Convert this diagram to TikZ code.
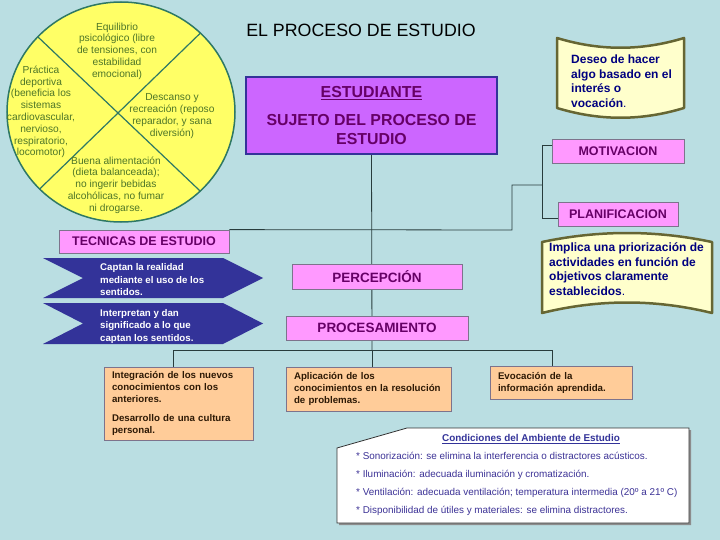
\documentclass[tikz,border=0pt]{standalone}
\usepackage{fontspec}
\setmainfont{Liberation Sans}
\pgfdeclarelayer{fondo}
\pgfsetlayers{fondo,main}
\definecolor{celeste}{RGB}{186,222,226}
\definecolor{amarillo}{RGB}{255,255,102}
\definecolor{verdeoscuro}{RGB}{46,120,100}
\definecolor{verdetexto}{RGB}{78,118,40}
\definecolor{violeta}{RGB}{204,102,255}
\definecolor{azulborde}{RGB}{51,51,153}
\definecolor{morado}{RGB}{102,0,102}
\definecolor{rosa}{RGB}{255,153,255}
\definecolor{grisborde}{RGB}{125,115,140}
\definecolor{naranja}{RGB}{255,204,153}
\definecolor{marron}{RGB}{45,25,5}
\definecolor{crema}{RGB}{255,255,204}
\definecolor{oliva}{RGB}{102,102,51}
\definecolor{marino}{RGB}{0,0,128}
\definecolor{lineagris}{RGB}{40,60,60}
\definecolor{textoazul}{RGB}{60,50,150}
\begin{document}
\begin{tikzpicture}[x=1pt,y=-1pt,
    linea/.style={draw=lineagris,line width=0.8pt},
    cajarosa/.style={draw=grisborde,fill=rosa,text=morado,inner sep=0pt,line width=0.8pt},
    cajanaranja/.style={draw=grisborde,fill=naranja,text=marron,inner xsep=8pt,inner ysep=0pt,
        align=left,font=\bfseries\fontsize{9.7}{12}\selectfont,line width=0.8pt},
    textocirc/.style={text=verdetexto,align=center,inner sep=0pt,font=\fontsize{10.2}{11.8}\selectfont},
    flecha/.style={fill=azulborde},
    textoflecha/.style={text=white,align=left,anchor=west,inner sep=0pt,font=\bfseries\fontsize{9.7}{12.5}\selectfont},
    pergamino/.style={draw=oliva,fill=crema,line width=2.5pt,line join=round},
    textoperg/.style={text=marino,align=left,anchor=west,inner sep=0pt,font=\bfseries\fontsize{12}{14.5}\selectfont}]

  \useasboundingbox (0,0) rectangle (720,540);

  % circulo de condiciones personales
  \coordinate (cc) at (121,112);
  \coordinate (d1) at (18,18);
  \coordinate (d2) at (218,208);
  \coordinate (d3) at (18,210);
  \coordinate (d4) at (218,16);
  \fill[amarillo] (cc) ellipse [x radius=114pt,y radius=110pt];
  \begin{scope}
    \clip (cc) ellipse [x radius=114pt,y radius=110pt];
    \draw[verdeoscuro,line width=1.2pt] (d1) -- (d2);
    \draw[verdeoscuro,line width=1.2pt] (d3) -- (d4);
  \end{scope}
  \draw[verdeoscuro,line width=1.5pt] (cc) ellipse [x radius=114pt,y radius=110pt];

  \node[textocirc] (equil) at (117,51) {Equilibrio\\psicológico (libre\\de tensiones, con\\estabilidad\\emocional)};
  \node[textocirc] (pract) at (41,112) {Práctica\\deportiva\\(beneficia los\\sistemas\\cardiovascular,\\nervioso,\\respiratorio,\\locomotor)};
  \node[textocirc] (desc)  at (172,116) {Descanso y\\recreación (reposo\\reparador, y sana\\diversión)};
  \node[textocirc] (buena) at (116,185) {Buena alimentación\\(dieta balanceada);\\no ingerir bebidas\\alcohólicas, no fumar\\ni drogarse.};

  % titulo
  \node[font=\fontsize{17.8}{20}\selectfont,inner sep=0pt] (titulo) at (361,30) {EL PROCESO DE ESTUDIO};

  % estudiante
  \node[draw=azulborde,fill=violeta,line width=2pt,minimum width=251pt,minimum height=77pt,inner sep=0pt,
        text=morado,align=center,font=\bfseries\fontsize{15.9}{18.5}\selectfont] (estud) at (371.5,115.5)
        {\underline{ESTUDIANTE}\\[10pt]SUJETO DEL PROCESO DE\\ESTUDIO};

  % cajas rosas
  \node[cajarosa,minimum width=132pt,minimum height=24pt,font=\bfseries\fontsize{12.5}{14}\selectfont] (motiv) at (618,151) {MOTIVACION};
  \node[cajarosa,minimum width=120pt,minimum height=24pt,font=\bfseries\fontsize{12.5}{14}\selectfont] (planif) at (618,214) {PLANIFICACION};
  \node[cajarosa,minimum width=170pt,minimum height=23pt,font=\bfseries\fontsize{12.5}{14}\selectfont] (tecnicas) at (144,241.5) {TECNICAS DE ESTUDIO};
  \node[cajarosa,minimum width=170pt,minimum height=25pt,font=\bfseries\fontsize{13.5}{15}\selectfont] (percep) at (377,276.5) {PERCEPCIÓN};
  \node[cajarosa,minimum width=182pt,minimum height=24pt,font=\bfseries\fontsize{13.5}{15}\selectfont] (proces) at (377,328) {PROCESAMIENTO};

  % pergaminos
  \draw[pergamino] (557,38) .. controls (600,51) and (641,51) .. (684,38) -- (684,108)
        .. controls (641,121) and (600,121) .. (557,108) -- cycle;
  \node[textoperg] (deseo) at (571,81) {Deseo de hacer\\algo basado en el\\interés o\\vocación{\mdseries.}};
  \draw[pergamino] (542,242) .. controls (599,230) and (655,230) .. (712,242) -- (712,313)
        .. controls (655,299) and (599,299) .. (542,313) -- cycle;
  \node[textoperg] (implica) at (549,269) {Implica una priorización de\\actividades en función de\\objetivos claramente\\establecidos{\mdseries.}};

  % flechas de tecnicas
  \fill[flecha] (43,258) -- (223,258) -- (263,278) -- (223,298) -- (43,298) -- (83,278) -- cycle;
  \fill[flecha] (43,303) -- (223,303) -- (263,323.5) -- (223,344) -- (43,344) -- (83,323.5) -- cycle;
  \node[textoflecha] (capta) at (100,280) {Captan la realidad\\mediante el uso de los\\sentidos.};
  \node[textoflecha] (interp) at (100,326) {Interpretan y dan\\significado a lo que\\captan los sentidos.};

  % cajas naranjas
  \node[cajanaranja,text width=133pt,minimum height=73pt] (integ) at (178.5,403.5)
        {Integración de los nuevos\\conocimientos con los\\anteriores.\\[7pt]Desarrollo de una cultura\\personal.};
  \node[cajanaranja,text width=149pt,minimum height=44pt] (aplic) at (368.5,389)
        {Aplicación de los\\conocimientos en la resolución\\de problemas.};
  \node[cajanaranja,text width=126pt,minimum height=33pt] (evoc) at (561,382.5)
        {Evocación de la\\información aprendida.};

  % condiciones del ambiente
  \fill[black!45] (409,430) -- (691,430) -- (691,525) -- (339,525) -- (339,450) -- cycle;
  \draw[draw=black!80,fill=white,line width=0.8pt] (407,428) -- (689,428) -- (689,523) -- (337,523) -- (337,448) -- cycle;
  \node[text=azulborde,inner sep=0pt,font=\bfseries\fontsize{9.9}{12}\selectfont] (condtit) at (531,439)
        {\underline{Condiciones del Ambiente de Estudio}};
  \node[text=textoazul,align=left,anchor=west,inner sep=0pt,font=\fontsize{9.9}{18}\selectfont] (condlist) at (356,484)
        {* Sonorización: se elimina la interferencia o distractores acústicos.\\
         * Iluminación: adecuada iluminación y cromatización.\\
         * Ventilación: adecuada ventilación; temperatura intermedia (20º a 21º C)\\
         * Disponibilidad de útiles y materiales: se elimina distractores.};

  % fondo y conectores
  \coordinate (r1) at (512,230);
  \coordinate (r2) at (542,185);
  \coordinate (r3) at (542,145);
  \coordinate (r4) at (542,218);
  \coordinate (b0) at (372,350);
  \coordinate (b1) at (173,350);
  \coordinate (b3) at (552,350);
  \begin{pgfonlayer}{fondo}
    \fill[celeste] (0,0) rectangle (720,540);
    \draw[linea] (estud.south) -- (b0);
    \draw[linea] (tecnicas.north east) -- (r1) |- (r2);
    \draw[linea] (r3) -- (r4);
    \draw[linea] (r3) -- (r3 -| motiv.west);
    \draw[linea] (r4) -- (r4 -| planif.west);
    \draw[linea] (b1) -- (b3);
    \draw[linea] (b1) -- (b1 |- integ.north);
    \draw[linea] (b0) -- (b0 |- aplic.north);
    \draw[linea] (b3) -- (b3 |- evoc.north);
  \end{pgfonlayer}
\end{tikzpicture}
\end{document}
